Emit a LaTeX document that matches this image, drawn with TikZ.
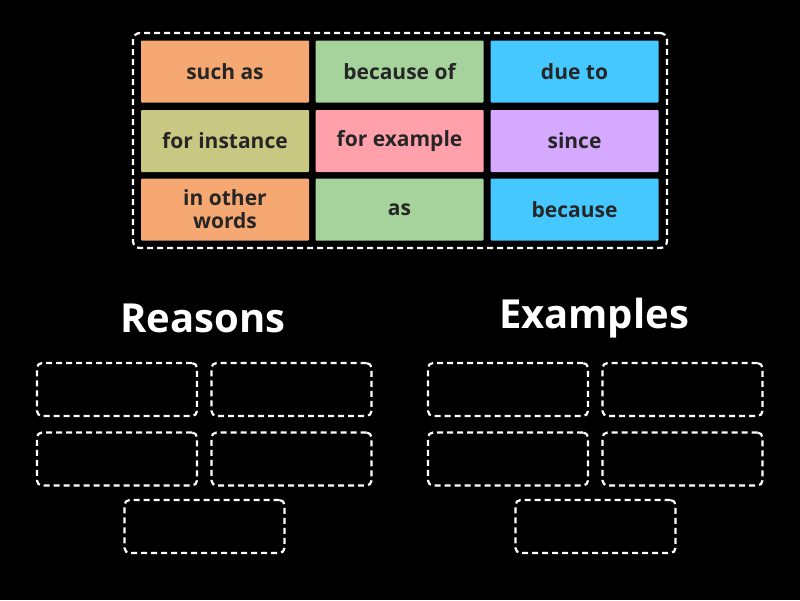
\documentclass[tikz,border=0pt]{standalone}
\usepackage{fontspec}
\setmainfont{Open Sans}
\definecolor{corange}{HTML}{F5A872}
\definecolor{cgreen}{HTML}{A5D39B}
\definecolor{cblue}{HTML}{45C8FF}
\definecolor{colive}{HTML}{C9C882}
\definecolor{cpink}{HTML}{FFA0AB}
\definecolor{cpurple}{HTML}{D4A9FF}
\begin{document}
\begin{tikzpicture}[x=1pt,y=-1pt,
  tile/.style={minimum width=168pt,minimum height=62pt,inner sep=0pt,align=center,font=\fontsize{21}{21}\selectfont\bfseries,text=black!85,rounded corners=1pt},
  slot/.style={draw=white,line width=2.2pt,dash pattern=on 6pt off 4pt,rounded corners=5pt,minimum width=160pt,minimum height=53pt,inner sep=0pt},
  head/.style={text=white,font=\fontsize{40}{40}\selectfont\bfseries}]
\fill[black] (0,0) rectangle (800,600);
\node[draw=white,line width=2.2pt,dash pattern=on 6pt off 4pt,rounded corners=7pt,minimum width=534pt,minimum height=215pt] (box) at (400,140.5) {};
\node[tile,fill=corange] (t1) at (225,71.5) {such as};
\node[tile,fill=cgreen] (t2) at (399.5,71.5) {because of};
\node[tile,fill=cblue] (t3) at (574.5,71.5) {due to};
\node[tile,fill=colive] (t4) at (225,141) {for instance};
\node[tile,fill=cpink] (t5) at (399.5,141) {for example};
\node[tile,fill=cpurple] (t6) at (574.5,141) {since};
\node[tile,fill=corange,font=\fontsize{21}{23}\selectfont\bfseries] (t7) at (225,209.5) {in other\\words};
\node[tile,fill=cgreen] (t8) at (399.5,209.5) {as};
\node[tile,fill=cblue] (t9) at (574.5,209.5) {because};
\node[head] (h1) at (203,318) {Reasons};
\node[head] (h2) at (594,318) {Examples};
\node[slot] (a1) at (117,389.5) {};
\node[slot] (a2) at (291.5,389.5) {};
\node[slot] (a3) at (117,459) {};
\node[slot] (a4) at (291.5,459) {};
\node[slot] (a5) at (204.5,526.5) {};
\node[slot] (b1) at (508,389.5) {};
\node[slot] (b2) at (682.5,389.5) {};
\node[slot] (b3) at (508,459) {};
\node[slot] (b4) at (682.5,459) {};
\node[slot] (b5) at (595.5,526.5) {};
\end{tikzpicture}
\end{document}
